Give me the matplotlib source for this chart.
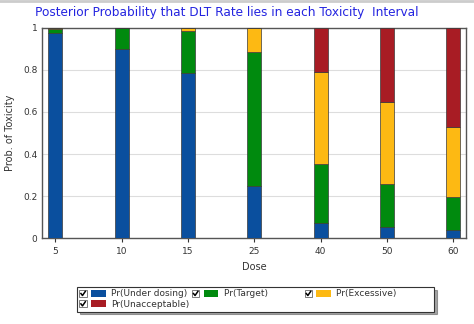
import numpy as np
import matplotlib
matplotlib.use('Agg')
import matplotlib.pyplot as plt
from matplotlib.patches import Rectangle
from matplotlib.lines import Line2D
from matplotlib.legend_handler import HandlerBase

# ── data ────────────────────────────────────────────────────────────────────
doses = ['5', '10', '15', '25', '40', '50', '60']
pr_under = [0.975, 0.898, 0.784, 0.248, 0.073, 0.051, 0.038]
pr_target = [0.020, 0.102, 0.200, 0.639, 0.278, 0.205, 0.159]
pr_excess = [0.004, 0.000, 0.014, 0.113, 0.441, 0.390, 0.333]
pr_unacc = [0.001, 0.000, 0.002, 0.000, 0.208, 0.354, 0.470]

labels = ['Pr(Under dosing)', 'Pr(Target)', 'Pr(Excessive)', 'Pr(Unacceptable)']
colors = ['#0A4F9E', '#008A0E', '#FDB913', '#A81C24']


# ── checkbox legend handle ──────────────────────────────────────────────────
class CheckHandler(HandlerBase):
    def create_artists(self, legend, orig_handle, xdescent, ydescent,
                       width, height, fontsize, trans):
        x0, y0 = -xdescent, -ydescent
        box = height * 0.95
        cb = Rectangle((x0, y0), box, box, fc='white', ec='#666666', lw=0.6,
                       transform=trans)
        tick = Line2D([x0 + box*0.2, x0 + box*0.42, x0 + box*0.82],
                      [y0 + box*0.5, y0 + box*0.22, y0 + box*0.8],
                      color='black', lw=1.1, transform=trans)
        sx = x0 + box + height * 0.6
        sw = Rectangle((sx, y0), width - (sx - x0), height,
                       fc=orig_handle.get_facecolor(), ec='none', transform=trans)
        return [cb, tick, sw]


fig = plt.figure(figsize=(4.74, 3.24), dpi=100)
ax = fig.add_axes([0.089, 0.265, 0.894, 0.649])

x = np.arange(len(doses))
bottom = np.zeros(len(doses))
bars = []
for vals, c, lab in zip([pr_under, pr_target, pr_excess, pr_unacc], colors, labels):
    b = ax.bar(x, vals, width=0.21, bottom=bottom, color=c, edgecolor='#3a3a3a',
               linewidth=0.5, label=lab, zorder=3)
    bars.append(b[0])
    bottom += np.array(vals)

ax.set_xlim(-0.2, 6.19)
ax.set_ylim(0, 1)
ax.set_xticks(x)
ax.set_xticklabels(doses)
ax.set_yticks([0, 0.2, 0.4, 0.6, 0.8, 1])
ax.set_yticklabels(['0', '0.2', '0.4', '0.6', '0.8', '1'])
ax.tick_params(axis='both', labelsize=6.5, colors='#333333', length=3, width=0.8)
ax.tick_params(axis='y', length=0)
ax.grid(axis='y', color='#dddddd', lw=0.8, zorder=0)
for s in ax.spines.values():
    s.set_color('#555555')
    s.set_linewidth(1.0)

ax.set_xlabel('Dose', fontsize=7, color='#333333', labelpad=4)
ax.set_ylabel('Prob. of Toxicity', fontsize=7, color='#333333', labelpad=6)
fig.text(0.479, 0.962, 'Posterior Probability that DLT Rate lies in each Toxicity  Interval',
         ha='center', va='center', fontsize=8.7, color='#2424E0')

# grey band at top
fig.add_artist(Line2D([0, 1], [0.997, 0.997], color='#cccccc', lw=2,
                      transform=fig.transFigure))

# pad labels so the three legend columns come out about equal in width
leg_labels = ['Pr(Under dosing)', 'Pr(Unacceptable)',
              'Pr(Target)' + ' ' * 12, 'Pr(Excessive)' + ' ' * 12]
order = [0, 3, 1, 2]
leg = fig.legend([bars[i] for i in order], leg_labels,
                 handler_map={b: CheckHandler() for b in bars},
                 ncol=3, loc='upper left', bbox_to_anchor=(0.162, 0.115),
                 fontsize=6.5, frameon=True, fancybox=False, shadow=True,
                 handlelength=2.9, handleheight=0.9, handletextpad=0.6,
                 columnspacing=0.3, labelspacing=0.15, borderpad=0.3,
                 borderaxespad=0)
leg.get_frame().set_edgecolor('#333333')
leg.get_frame().set_linewidth(0.8)
for t in leg.get_texts():
    t.set_color('#333333')

fig.savefig('out.png', dpi=100)
